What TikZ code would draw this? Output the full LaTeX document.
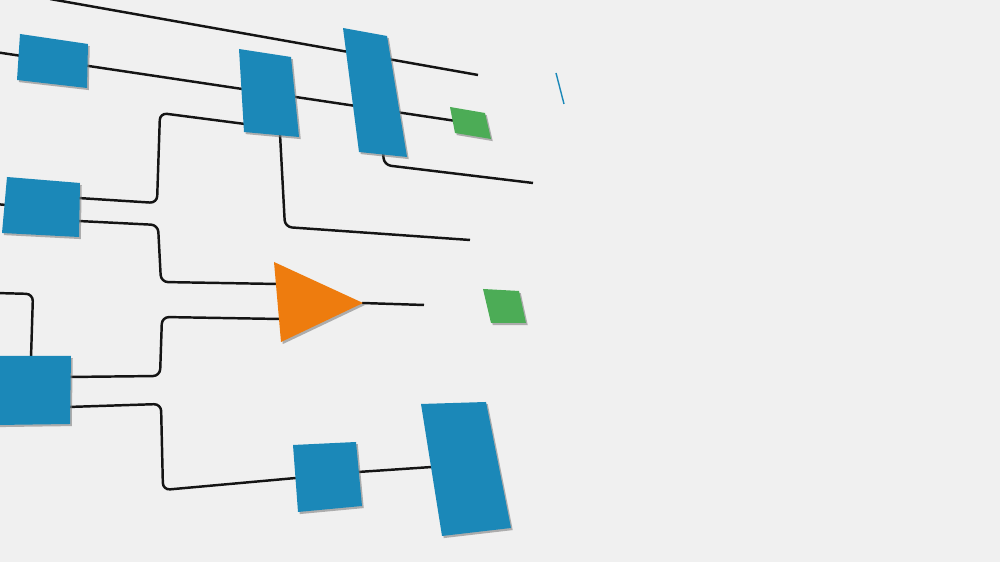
\documentclass[tikz,border=0pt]{standalone}
\usetikzlibrary{shadows}
\definecolor{boxblue}{RGB}{27,136,184}
\definecolor{amporange}{RGB}{238,124,14}
\definecolor{padgreen}{RGB}{76,172,86}
\definecolor{paper}{RGB}{240,240,240}
\begin{document}
\begin{tikzpicture}[x=0.01cm,y=-0.01cm,
  wire/.style={line width=0.7pt,black!92,rounded corners=2pt},
  shd/.style={drop shadow={shadow xshift=0.5pt,shadow yshift=-0.6pt,opacity=0.6}},
  blk/.style={fill=boxblue,shd},
  pad/.style={fill=padgreen,shd},
  amp/.style={fill=amporange,shd}]
\fill[paper] (0,0) rectangle (1000,562);
\useasboundingbox (0,0) rectangle (1000,562);

% wire ends
\coordinate (t1) at (50,-1);   \coordinate (t2) at (478,75);
\coordinate (u1) at (-5,52);   \coordinate (u2) at (456,121);
\coordinate (c1) at (383,150); \coordinate (c2) at (384,165); \coordinate (c3) at (533,183);
\coordinate (b1) at (280,134); \coordinate (b2) at (285,227); \coordinate (b3) at (470,240);
\coordinate (b4) at (245,124); \coordinate (b5) at (160,113); \coordinate (b6) at (157,203);
\coordinate (d1) at (78,198);  \coordinate (d2) at (78,221);  \coordinate (d3) at (158,225);
\coordinate (d4) at (161,282); \coordinate (d0) at (-5,204);  \coordinate (d5) at (6,205);
\coordinate (a1) at (278,284); \coordinate (a2) at (280,319); \coordinate (a3) at (362,303);
\coordinate (a4) at (424,305); \coordinate (a5) at (162,317); \coordinate (a6) at (160,376);
\coordinate (e1) at (68,377);  \coordinate (e2) at (68,407);  \coordinate (e3) at (161,404);
\coordinate (e4) at (163,490); \coordinate (e0) at (-5,293);  \coordinate (e5) at (33,294);
\coordinate (e6) at (31,358);  \coordinate (f1) at (296,478); \coordinate (f2) at (358,472);
\coordinate (g1) at (432,467);

% wires
\draw[wire] (t1) -- (t2);
\draw[wire] (u1) -- (u2);
\draw[wire] (c1) -- (c2) -- (c3);
\draw[wire] (b1) -- (b2) -- (b3);
\draw[wire] (b4) -- (b5) -- (b6) -- (d1);
\draw[wire] (d0) -- (d5);
\draw[wire] (d2) -- (d3) -- (d4) -- (a1);
\draw[wire] (a3) -- (a4);
\draw[wire] (a2) -- (a5) -- (a6) -- (e1);
\draw[wire] (e0) -- (e5) -- (e6);
\draw[wire] (e2) -- (e3) -- (e4) -- (f1);
\draw[wire] (f2) -- (g1);
\draw[boxblue,line width=0.4pt] (556,73) -- (564,104);

% blocks
\fill[blk] (20,34) -- (88,44) -- (87,88) -- (17,80) -- cycle;
\fill[blk] (239,49) -- (291,57) -- (299,137) -- (244,132) -- cycle;
\fill[blk] (343,28) -- (387,36) -- (407,157) -- (359,152) -- cycle;
\fill[blk] (7,177) -- (80,183) -- (79,237) -- (2,233) -- cycle;
\fill[blk] (-3,356) -- (71,356) -- (70,424) -- (-3,425) -- cycle;
\fill[blk] (293,445) -- (356,442) -- (362,506) -- (298,512) -- cycle;
\fill[blk] (421,404) -- (486,402) -- (511,528) -- (442,536) -- cycle;
\fill[pad] (450,107) -- (485,113) -- (491,139) -- (455,133) -- cycle;
\fill[pad] (483,289) -- (519,291) -- (526,323) -- (491,323) -- cycle;
\fill[amp] (274,262) -- (363,303) -- (281,342) -- cycle;
\end{tikzpicture}
\end{document}
